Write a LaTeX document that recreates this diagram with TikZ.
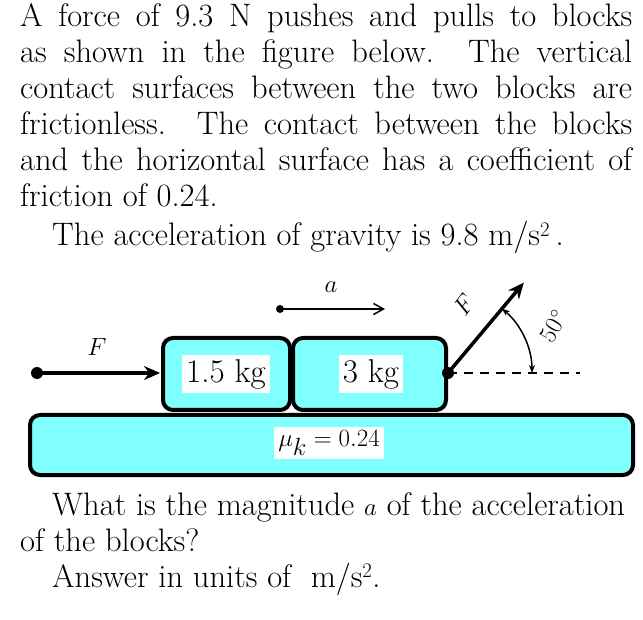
\documentclass[tikz,border=0pt]{standalone}
\usetikzlibrary{arrows.meta,calc}
\definecolor{blk}{RGB}{128,255,255}
\begin{document}
\begin{tikzpicture}[x=1pt,y=-1pt,
  box/.style={draw,line width=4pt,fill=blk,rounded corners=10pt},
  lbl/.style={fill=white,inner sep=4pt,font=\fontsize{33}{38}\selectfont},
  txt/.style={anchor=base west,inner sep=0pt,font=\fontsize{32.5}{36}\selectfont}]
\useasboundingbox (0,0) rectangle (643,620);
% text
\node[txt,anchor=north west,text width=612pt,align=justify] (p1) at (20,3)
{A force of 9.3 N pushes and pulls to blocks\linebreak as shown in the figure below.\ \ The vertical\linebreak contact surfaces between the two blocks are\linebreak frictionless.\ \ The contact between the blocks\linebreak and the horizontal surface has a coefficient of\linebreak friction of 0.24.};
\node[txt] (p2) at (52,246) {The acceleration of gravity is 9.8 m/s$^2$\,.};
\node[txt] (q1) at (52,515) {What is the magnitude $a$ of the acceleration};
\node[txt] (q2) at (20,551) {of the blocks?};
\node[txt] (q3) at (52,587) {Answer in units of\ \ m/s$^2$.};
% figure
\draw[box] (30,415) rectangle (633,475);
\draw[box] (163,338) rectangle (290,410);
\draw[box] (293,338) rectangle (446,410);
\node[lbl,font=\fontsize{35}{40}\selectfont] (mu) at (329,443) {$\mu_k=0.24$};
\node[lbl] (m1) at (226,374) {1.5 kg};
\node[lbl] (m2) at (371,374) {3 kg};
% push force
\coordinate (ps) at (37,373);
\coordinate (pe) at (160,373);
\fill (ps) circle (6);
\draw[line width=3.5pt,-{Stealth[length=16pt,width=14pt]}] (ps) -- (pe);
\node[font=\fontsize{32}{36}\selectfont] (Fl) at (97,347) {$F$};
% acceleration
\coordinate (as) at (280,309);
\coordinate (ae) at (385,309);
\fill (as) circle (4);
\draw[line width=1.5pt,-{Straight Barb[length=10pt,width=11pt]}] (as) -- (ae);
\node[font=\fontsize{32}{36}\selectfont] (al) at (331,287) {$a$};
% pull force
\coordinate (o) at (448,373);
\coordinate (tip) at ($(o)+(-50:118)$);
\draw[line width=1.5pt,dash pattern=on 9pt off 7pt] (o) -- (580,373);
\draw[line width=3.5pt,-{Stealth[length=16pt,width=14pt]}] (o) -- (tip);
\fill (o) circle (6);
\draw[line width=1.5pt,{Stealth[length=8pt]}-{Stealth[length=8pt]}] ($(o)+(84,0)$) arc[start angle=0,end angle=-50,radius=84];
\node[rotate=53,font=\fontsize{24}{28}\selectfont] (F2) at (464,305) {$F$};
\node[rotate=60,font=\fontsize{27}{30}\selectfont] (ang) at (553,326) {$50^\circ$};
\end{tikzpicture}
\end{document}
